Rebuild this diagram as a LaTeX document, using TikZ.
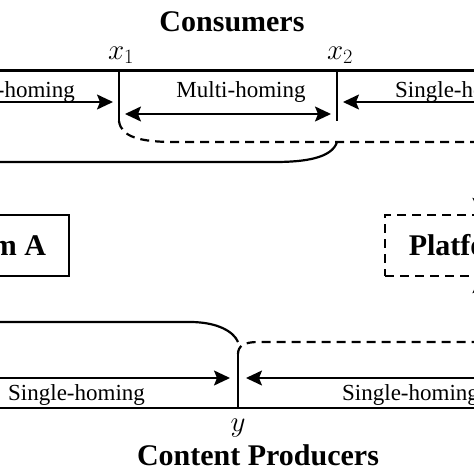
\RequirePackage{fix-cm}
\documentclass[tikz,border=0pt]{standalone}
\usepackage{fontspec}
\setmainfont{Liberation Serif}
\usetikzlibrary{arrows.meta}

\begin{document}
\begin{tikzpicture}[x=1pt, y=-1pt, >={Stealth[length=16pt,width=15pt,inset=3pt]}]
\tikzstyle{axis} = [draw=black, line width=2.2pt]
\tikzstyle{harrow} = [draw=black, line width=1.6pt]
\tikzstyle{link} = [draw=black, line width=2.2pt]
\tikzstyle{dlink} = [link, dash pattern=on 9pt off 6pt]
\tikzstyle{lbl} = [font=\fontsize{23}{27}\selectfont, inner sep=0pt]
\tikzstyle{mlbl} = [font=\fontsize{29}{33}\selectfont, inner sep=0pt]
\tikzstyle{ttl} = [font=\fontsize{30}{36}\selectfont\bfseries, inner sep=0pt]
\tikzstyle{platbox} = [
  draw = black,
  line width=2.2pt,
  minimum width=190pt,
  minimum height=61pt,
  inner sep=0pt,
  font=\fontsize{30}{36}\selectfont\bfseries
]

\useasboundingbox (0,0) rectangle (474,474);
\clip (0,0) rectangle (474,474);

% consumers
\node [ttl, anchor=base] (cons) at (232,31) {Consumers};
\coordinate (al) at (-10,70.5);
\coordinate (ar) at (484,70.5);
\coordinate (x1) at (119,70.5);
\coordinate (x1b) at (119,121);
\coordinate (x2) at (337,70.5);
\coordinate (x2b) at (337,121);
\node [mlbl, anchor=base] (lx1) at (121,59.5) {$x_1$};
\node [mlbl, anchor=base] (lx2) at (340,59.5) {$x_2$};

\draw[axis] (al) -- (ar);
\draw[axis] (x1) -- (x1b);
\draw[axis] (x2) -- (x2b);

\coordinate (sl1) at (-10,102);
\coordinate (sl2) at (113,102);
\coordinate (m1) at (125,114);
\coordinate (m2) at (331,114);
\coordinate (sr1) at (484,102);
\coordinate (sr2) at (343,102);
\draw[harrow, ->] (sl1) -- (sl2);
\draw[harrow, <->] (m1) -- (m2);
\draw[harrow, ->] (sr1) -- (sr2);

\node [lbl, anchor=base east] (csl) at (75,97) {Single-homing};
\node [lbl, anchor=base] (cmh) at (241,97) {Multi-homing};
\node [lbl, anchor=base west] (csr) at (395,97) {Single-homing};

% platforms
\node [platbox] (pa) at (-26,245.5) {Platform A};
\node [platbox, dash pattern=on 9pt off 6pt] (pb) at (480,245.5) {Platform B};

% content producers
\coordinate (bl) at (-10,408);
\coordinate (br) at (484,408);
\coordinate (yb) at (238,408);
\coordinate (yt) at (238,354);
\node [mlbl, anchor=base] (ly) at (238,431) {$y$};
\node [ttl, anchor=base] (prod) at (258,465) {Content Producers};

\draw[axis] (bl) -- (br);
\draw[axis] (yb) -- (yt);

\coordinate (pl1) at (-10,378);
\coordinate (pl2) at (230,378);
\coordinate (pr1) at (484,378);
\coordinate (pr2) at (246,378);
\draw[harrow, ->] (pl1) -- (pl2);
\draw[harrow, ->] (pr1) -- (pr2);

\node [lbl, anchor=base west] (psl) at (8,400) {Single-homing};
\node [lbl, anchor=base west] (psr) at (342,400) {Single-homing};

% links to the platforms
\coordinate (jt) at (337,142);
\coordinate (jb) at (238,342);
\draw[dlink, ->] (x1b) .. controls (121,137) and (140,142) .. (175,142) -- (480,142) -- (pb.north);
\draw[link, ->] (jt) .. controls (332,158) and (305,162) .. (275,162) -- (-26,162) -- (pa.north);
\draw[dlink, ->] (yt) .. controls (238,346) and (244,342) .. (258,342) -- (480,342) -- (pb.south);
\draw[link, ->] (jb) .. controls (234,332) and (218,322) .. (190,322) -- (-26,322) -- (pa.south);

\end{tikzpicture}
\end{document}
